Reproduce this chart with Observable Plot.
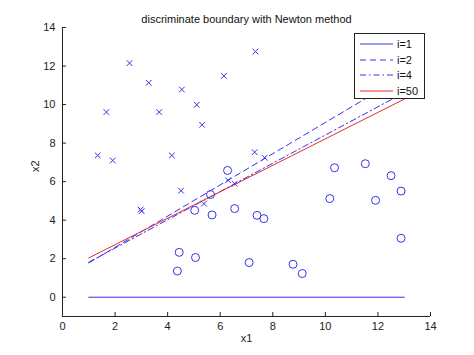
<!DOCTYPE html>
<html>
<head>
<meta charset="utf-8">
<script src="https://cdn.jsdelivr.net/npm/d3@7"></script>
<script src="https://cdn.jsdelivr.net/npm/@observablehq/plot@0.6"></script>
<style>
  body { margin: 0; background: #fff; }
  #wrap { position: relative; width: 474px; height: 355px; font-family: "Liberation Sans", Arial, sans-serif; }
  #legend { position: absolute; left: 354px; top: 33px; width: 71px; height: 66px; background: #fff; border: 1px solid #222; box-sizing: border-box; }
  #legend .row { position: absolute; left: 0; height: 14px; display: flex; align-items: center; font-size: 11px; color: #111; }
  #legend svg { margin-left: 5px; margin-right: 4px; }
</style>
</head>
<body>
<div id="wrap"></div>
<script>
// ---- data ----
const crossX = [1.34, 1.67, 1.91, 2.55, 3.28, 3.68, 4.16, 4.54, 5.11, 5.31, 6.14, 7.34, 7.31, 2.97, 3.01, 4.51, 5.38, 6.30, 6.55, 7.69];
const crossY = [7.36, 9.61, 7.10, 12.15, 11.13, 9.61, 7.36, 10.78, 9.99, 8.95, 11.49, 12.75, 7.53, 4.55, 4.47, 5.53, 4.86, 6.07, 5.89, 7.24];
const circleX = [6.28, 5.63, 5.03, 5.69, 6.55, 7.40, 7.66, 4.44, 5.06, 4.37, 7.10, 8.77, 9.12, 10.17, 10.35, 11.52, 11.91, 12.50, 12.88, 12.88];
const circleY = [6.58, 5.33, 4.51, 4.27, 4.60, 4.25, 4.08, 2.33, 2.06, 1.36, 1.80, 1.71, 1.23, 5.12, 6.72, 6.93, 5.03, 6.31, 5.51, 3.06];
const lineX = [1, 13];
const seriesNames = ["i=1", "i=2", "i=4", "i=50"];
const seriesY = {
  "i=1": [0, 0],
  "i=2": [1.78, 11.50],
  "i=4": [1.82, 10.62],
  "i=50": [2.04, 10.28]
};
const xTicks = [0, 2, 4, 6, 8, 10, 12, 14];
const yTicks = [0, 2, 4, 6, 8, 10, 12, 14];
const titleText = "discriminate boundary with Newton method";
const xLabel = "x1";
const yLabel = "x2";

// ---- styles ----
const BLUE = "#3434ee";
const RED = "#ea2b2b";
const styles = {
  "i=1": {stroke: BLUE, dash: null},
  "i=2": {stroke: BLUE, dash: "6,4"},
  "i=4": {stroke: BLUE, dash: "6,3,1.5,3"},
  "i=50": {stroke: RED, dash: null}
};

const W = 474, H = 355, mt = 27, mb = 39, ml = 62, mr = 44;
const xDom = [0, 14], yDom = [-1, 14];
const tickLen = 4;
const pxY = (H - mt - mb) / (yDom[1] - yDom[0]);
const pxX = (W - ml - mr) / (xDom[1] - xDom[0]);

const crosses = crossX.map((x, i) => ({x, y: crossY[i]}));
const circles = circleX.map((x, i) => ({x, y: circleY[i]}));
const lines = seriesNames.flatMap(s => lineX.map((x, i) => ({s, x, y: seriesY[s][i]})));

const marks = [];
for (const s of seriesNames) {
  marks.push(Plot.line(lines.filter(d => d.s === s), {
    x: "x", y: "y", stroke: styles[s].stroke, strokeWidth: 1,
    strokeDasharray: styles[s].dash || undefined
  }));
}
marks.push(
  Plot.dot(crosses, {x: "x", y: "y", symbol: "times", r: 2.7, stroke: BLUE, strokeWidth: 1}),
  Plot.dot(circles, {x: "x", y: "y", symbol: "circle", r: 4, stroke: BLUE, fill: "none", strokeWidth: 1}),
  // axis lines
  Plot.ruleX([xDom[0]], {y1: yDom[0], y2: yDom[1], stroke: "#222", strokeWidth: 1}),
  Plot.ruleY([yDom[0]], {x1: xDom[0], x2: xDom[1], stroke: "#222", strokeWidth: 1}),
  // inward ticks
  Plot.ruleX(xTicks, {x: d => d, y1: yDom[0], y2: yDom[0] + tickLen / pxY, stroke: "#222", strokeWidth: 1}),
  Plot.ruleY(yTicks, {y: d => d, x1: xDom[0], x2: xDom[0] + tickLen / pxX, stroke: "#222", strokeWidth: 1}),
  Plot.axisX(xTicks, {tickSize: 0, tickPadding: 6, fontSize: 11, fill: "#222", label: null}),
  Plot.axisY(yTicks, {tickSize: 0, tickPadding: 7, fontSize: 11, fill: "#222", label: null}),
  Plot.text([xLabel], {text: d => d, frameAnchor: "bottom", dy: 25, fontSize: 11, fill: "#222"}),
  Plot.text([yLabel], {text: d => d, frameAnchor: "left", dx: -27, rotate: -90, fontSize: 11, fill: "#222"}),
  Plot.text([titleText], {text: d => d, frameAnchor: "top", dy: -12, fontSize: 11, fill: "#111"})
);

const chart = Plot.plot({
  width: W, height: H,
  marginTop: mt, marginBottom: mb, marginLeft: ml, marginRight: mr,
  x: {domain: xDom},
  y: {domain: yDom},
  style: {fontFamily: "'Liberation Sans', Arial, sans-serif", fontSize: "11px", background: "#fff", overflow: "visible"},
  marks
});
const wrap = document.getElementById("wrap");
wrap.appendChild(chart);

// legend overlay
const legend = document.createElement("div");
legend.id = "legend";
seriesNames.forEach((s, i) => {
  const row = document.createElement("div");
  row.className = "row";
  row.style.top = (3 + i * 15.5) + "px";
  const st = styles[s];
  row.innerHTML = `<svg width="33" height="4"><line x1="0" x2="33" y1="2" y2="2" stroke="${st.stroke}" stroke-width="1" ${st.dash ? `stroke-dasharray="${st.dash}"` : ""}/></svg><span>${s}</span>`;
  legend.appendChild(row);
});
wrap.appendChild(legend);
</script>
</body>
</html>
